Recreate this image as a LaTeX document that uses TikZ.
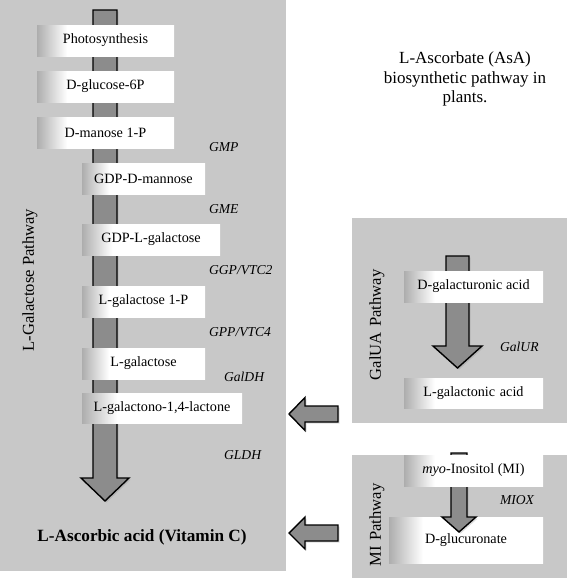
\documentclass[tikz,border=0pt]{standalone}
\usepackage{fontspec}
\setmainfont{Liberation Serif}
\usetikzlibrary{shadows}

\definecolor{panelgray}{RGB}{200,200,200}
\definecolor{arrowgray}{RGB}{140,140,140}
\pgfdeclarehorizontalshading{boxshade}{100bp}{color(0bp)=(black!32); color(25bp)=(black!32); color(36bp)=(white); color(100bp)=(white)}

% fat arrow pointing down: x centre, top, head top, tip, shaft half width, head half width
\newcommand{\fatdown}[6]{%
  \draw[bigarr] (#1-#5,#2) -- (#1+#5,#2) -- (#1+#5,#3) -- (#1+#6,#3) -- (#1,#4)
    -- (#1-#6,#3) -- (#1-#5,#3) -- cycle;}
% fat arrow pointing left: tip x, tip y, head base x, tail x, shaft half height, head half height
\newcommand{\fatleft}[6]{%
  \draw[bigarr] (#1,#2) -- (#3,#2-#6) -- (#3,#2-#5) -- (#4,#2-#5) -- (#4,#2+#5)
    -- (#3,#2+#5) -- (#3,#2+#6) -- cycle;}

\begin{document}
\begin{tikzpicture}[x=0.5pt,y=-0.5pt,
  panel/.style={fill=panelgray},
  bigarr/.style={fill=arrowgray,draw=black,line width=0.7pt,line join=miter,
    drop shadow={opacity=0.25,shadow xshift=0.8pt,shadow yshift=-0.8pt}},
  box/.style={rectangle,shade,shading=boxshade,inner sep=0pt,minimum height=15.5pt,
    font=\fontsize{7.1}{8}\selectfont},
  enz/.style={anchor=west,font=\fontsize{6.8}{8}\selectfont\itshape},
  side/.style={rotate=90,font=\fontsize{8.3}{10}\selectfont}
]
  \useasboundingbox (0,0) rectangle (567,578);

  % panels
  \fill[panel] (0,0) rectangle (286,571);
  \fill[panel] (352,218) rectangle (567,423);
  \fill[panel] (352,455) rectangle (567,578);

  % L-galactose pathway
  \fatdown{105}{10}{478}{501}{12}{24}
  \node[box,minimum width=68.5pt] (photo)  at (105.5,40.5)  {Photosynthesis};
  \node[box,minimum width=68.5pt] (glc6p)  at (105.5,86.5)  {D-glucose-6P};
  \node[box,minimum width=68.5pt] (man1p)  at (105.5,132.5) {D-manose 1-P};
  \node[box,minimum width=61.5pt] (gdpman) at (143.5,178.5) {GDP-D-mannose};
  \node[box,minimum width=69pt]   (gdpgal) at (151,239.5)   {GDP-L-galactose};
  \node[box,minimum width=61.5pt] (gal1p)  at (143.5,301.5) {L-galactose 1-P};
  \node[box,minimum width=61.5pt] (lgal)   at (143.5,363.5) {L-galactose};
  \node[box,minimum width=80pt,minimum height=15pt] (galL) at (162,408) {L-galactono-1,4-lactone};

  \node[enz] (gmp)  at (202,147) {GMP};
  \node[enz] (gme)  at (202,209) {GME};
  \node[enz] (ggp)  at (202,270) {GGP/VTC2};
  \node[enz] (gpp)  at (202,332) {GPP/VTC4};
  \node[enz] (galdh) at (217,377) {GalDH};
  \node[enz] (gldh) at (217,455) {GLDH};

  \node[font=\fontsize{8.6}{10}\selectfont\bfseries] (asa) at (142,537) {L-Ascorbic acid (Vitamin C)};
  \node[side] (lgalpath) at (30,280) {L-Galactose Pathway};

  % title
  \node[align=center,font=\fontsize{8.5}{9.6}\selectfont] (title) at (465,79)
    {L-Ascorbate (AsA)\\biosynthetic pathway in\\plants.};

  % GalUA pathway
  \fatdown{457.5}{256}{346}{368}{11.5}{24.5}
  \node[box,minimum width=69.5pt] (dgalA) at (473.5,286.5) {D-galacturonic acid};
  \node[box,minimum width=69.5pt,minimum height=15pt] (lgalA) at (473.5,393) {L-galactonic\,\,acid};
  \node[enz] (galur) at (493,347) {GalUR};
  \node[side] (galuapath) at (377,325) {GalUA\,\,Pathway};

  % MI pathway
  \node[box,minimum width=77pt,minimum height=23pt] (gluc) at (466,540) {D-glucuronate};
  \fatdown{459}{453}{517}{532}{8}{17}
  \node[box,minimum width=69.5pt] (myo) at (473.5,470.5) {\textit{myo}-Inositol (MI)};
  \node[enz] (miox) at (493,500) {MIOX};
  \node[side] (mipath) at (377,525) {MI\,\,Pathway};

  % feeding arrows
  \fatleft{289}{414}{305}{338}{8}{16.5}
  \fatleft{289}{533}{305}{338}{8}{16}
\end{tikzpicture}
\end{document}
